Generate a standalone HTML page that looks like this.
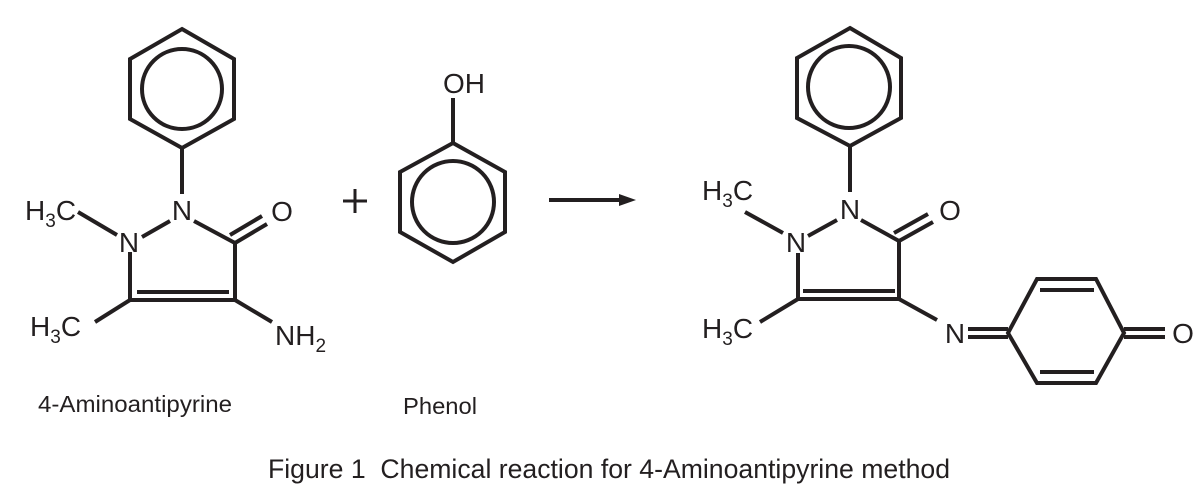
<!DOCTYPE html>
<html><head><meta charset="utf-8"><style>
html,body{margin:0;padding:0;background:#fff;}
svg{display:block;}
text{font-family:"Liberation Sans",Arial,sans-serif;fill:#231f20;}
</style></head><body>
<svg width="1204" height="487" viewBox="0 0 1204 487" xmlns="http://www.w3.org/2000/svg">
<g stroke="#231f20" stroke-width="4" fill="none" stroke-linejoin="miter">
<polygon points="182,29 234,59 234,119 182,148 130,119 130,59"/>
<circle cx="182" cy="89" r="40"/>
<line x1="182" y1="148" x2="182" y2="194"/>
<line x1="78" y1="212" x2="117" y2="235"/>
<line x1="142" y1="237" x2="170" y2="221"/>
<line x1="194" y1="221" x2="235" y2="243"/>
<line x1="235" y1="243" x2="267" y2="224"/>
<line x1="230" y1="235" x2="262" y2="216"/>
<line x1="130" y1="252" x2="130" y2="300"/>
<line x1="235" y1="243" x2="235" y2="300"/>
<line x1="130" y1="300" x2="235" y2="300"/>
<line x1="137" y1="292" x2="229" y2="292"/>
<line x1="130" y1="300" x2="95" y2="322"/>
<line x1="235" y1="300" x2="272" y2="322"/>
<polygon points="453,143 505,172 505,232 453,262 400,232 400,172"/>
<circle cx="453" cy="202" r="41"/>
<line x1="453" y1="98" x2="453" y2="143"/>
<line x1="343" y1="201" x2="367" y2="201" stroke-width="3"/>
<line x1="355" y1="189" x2="355" y2="213" stroke-width="3"/>
<line x1="549" y1="200" x2="622" y2="200"/>
<polygon points="850,28 901,58 901,118 850,146 797,118 797,58"/>
<circle cx="849" cy="87" r="41"/>
<line x1="850" y1="146" x2="850" y2="192"/>
<line x1="745" y1="212" x2="783" y2="233"/>
<line x1="808" y1="236" x2="837" y2="220"/>
<line x1="861" y1="220" x2="899" y2="241"/>
<line x1="899" y1="241" x2="933" y2="222"/>
<line x1="894" y1="233" x2="928" y2="214"/>
<line x1="798" y1="253" x2="798" y2="299"/>
<line x1="899" y1="241" x2="899" y2="299"/>
<line x1="798" y1="299" x2="899" y2="299"/>
<line x1="803" y1="291" x2="895" y2="291"/>
<line x1="798" y1="299" x2="760" y2="322"/>
<line x1="899" y1="299" x2="937" y2="320"/>
<line x1="968" y1="329" x2="1008" y2="329"/>
<line x1="968" y1="337" x2="1008" y2="337"/>
<polygon points="1008,333 1037,279 1096,279 1124,333 1096,383 1037,383"/>
<line x1="1040" y1="290" x2="1094" y2="290"/>
<line x1="1040" y1="372" x2="1094" y2="372"/>
<line x1="1124" y1="329" x2="1165" y2="329"/>
<line x1="1124" y1="337" x2="1165" y2="337"/>
</g>
<polygon points="636,200 619,194 619,206" fill="#231f20"/>
<g font-size="28">
<text x="25" y="220">H<tspan font-size="19" dy="7">3</tspan><tspan dy="-7">C</tspan></text>
<text x="182" y="220" text-anchor="middle">N</text>
<text x="129" y="252" text-anchor="middle">N</text>
<text x="282" y="221" text-anchor="middle">O</text>
<text x="30" y="336">H<tspan font-size="19" dy="7">3</tspan><tspan dy="-7">C</tspan></text>
<text x="275" y="345">NH<tspan font-size="19" dy="7">2</tspan></text>
<text x="464" y="93" text-anchor="middle">OH</text>
<text x="702" y="200">H<tspan font-size="19" dy="7">3</tspan><tspan dy="-7">C</tspan></text>
<text x="850" y="219" text-anchor="middle">N</text>
<text x="796" y="252" text-anchor="middle">N</text>
<text x="950" y="220" text-anchor="middle">O</text>
<text x="702" y="338">H<tspan font-size="19" dy="7">3</tspan><tspan dy="-7">C</tspan></text>
<text x="955" y="343" text-anchor="middle">N</text>
<text x="1183" y="343" text-anchor="middle">O</text>
</g>
<text x="38" y="412" font-size="23" textLength="194" lengthAdjust="spacingAndGlyphs">4-Aminoantipyrine</text>
<text x="403" y="414" font-size="23" textLength="74" lengthAdjust="spacingAndGlyphs">Phenol</text>
<text x="268" y="478" font-size="27" textLength="682" lengthAdjust="spacingAndGlyphs" xml:space="preserve">Figure 1  Chemical reaction for 4-Aminoantipyrine method</text>
</svg>
</body></html>
